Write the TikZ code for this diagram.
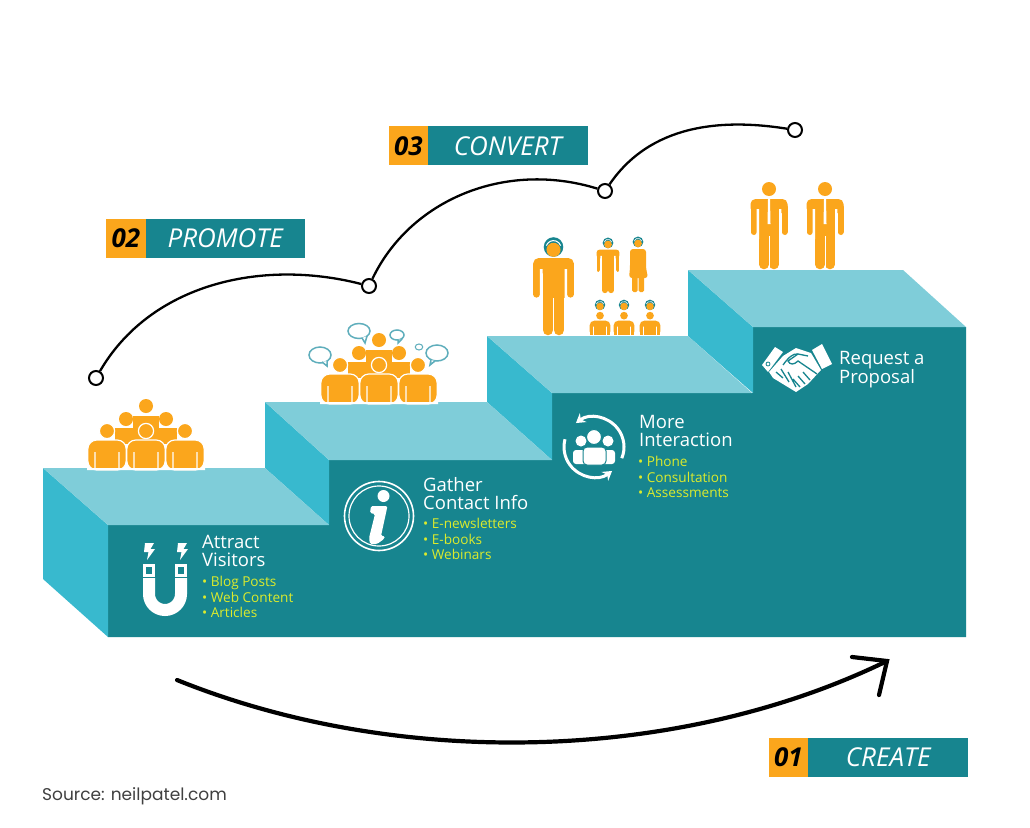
\documentclass[tikz,border=0pt]{standalone}
\usepackage{fontspec}
\setmainfont{Open Sans}
\newfontfamily\srcfont{Poppins}
\usetikzlibrary{arrows.meta}
\definecolor{stepfront}{HTML}{17858F}
\definecolor{stepside}{HTML}{38B9CE}
\definecolor{steptop}{HTML}{7FCDD9}
\definecolor{peopleor}{HTML}{FBA61C}
\definecolor{listyel}{HTML}{DCEB2C}
\definecolor{bubble}{HTML}{5FAEBC}
\tikzset{
  x=1pt,y=-1pt,
  frontface/.style={fill=stepfront},
  sideface/.style={fill=stepside},
  topface/.style={fill=steptop},
  headtext/.style={anchor=north west,inner sep=0pt,align=left,text=white,font=\fontsize{18.5}{18}\selectfont},
  listtext/.style={anchor=north west,inner sep=0pt,align=left,text=listyel,font=\fontsize{13.6}{15.6}\selectfont},
  numbox/.style={fill=peopleor,inner sep=0pt,minimum width=39.5pt,minimum height=39pt,anchor=north west,text=black,font=\fontsize{26}{26}\selectfont\bfseries\itshape},
  namebox/.style={fill=stepfront,inner sep=0pt,minimum height=39pt,anchor=north west,text=white,font=\fontsize{26}{26}\selectfont\itshape},
  waypoint/.style={circle,draw=black,fill=white,line width=2pt,minimum size=14pt,inner sep=0pt},
  pathline/.style={draw=black,line width=2.3pt},
  bigarrow/.style={draw=black,line width=4.2pt,line cap=round},
  speech/.style={draw=bubble,fill=white,line width=1.5pt},
  iconline/.style={draw=white,line width=3pt},
}
% bust: centre x, bottom y, scale
\newcommand{\bustfig}[3]{%
 \begin{scope}[shift={(#1,#2)},scale=#3]
  \fill[peopleor,rounded corners=#3*9pt] (-19,0) -- (-19,-28) -- (19,-28) -- (19,0) -- cycle;
  \fill[peopleor] (-19,-8) rectangle (19,0);
  \fill[white] (-12.4,-17) rectangle (-11.2,0) (11.2,-17) rectangle (12.4,0);
  \fill[peopleor] (0,-37) circle[radius=7];
 \end{scope}}
% crowd: centre x, bottom y
\newcommand{\crowdfig}[2]{%
 \begin{scope}[shift={(#1,#2)}]
  \fill[peopleor] (0,-62) circle[radius=7];
  \fill[peopleor] (-13,-52) rectangle (13,-38);
  \fill[peopleor] (-20,-49) circle[radius=7] (20,-49) circle[radius=7];
  \fill[peopleor] (-31,-40) rectangle (31,-24);
  \foreach \cx in {-39,39}{\draw[white,line width=1.2pt,fill=peopleor] (\cx,-37) circle[radius=7.6];}
  \foreach \cx in {-39,0,39}{
   \draw[white,line width=1.2pt,fill=peopleor,rounded corners=9pt] (\cx-19.2,2) -- (\cx-19.2,-28) -- (\cx+19.2,-28) -- (\cx+19.2,2) -- cycle;
   \fill[white] (\cx-12.6,-16) rectangle (\cx-11.4,0) (\cx+11.4,-16) rectangle (\cx+12.6,0);
  }
  \draw[white,line width=1.2pt,fill=peopleor] (0,-37) circle[radius=7.6];
  \fill[white] (-20,0) rectangle (-59,2) (-20,0) rectangle (59,2);
 \end{scope}}
% standing man: centre x, foot y, scale
\newcommand{\manfig}[3]{%
 \begin{scope}[shift={(#1,#2)},scale=#3]
  \fill[peopleor] (0,-80) circle[radius=7];
  \fill[peopleor,rounded corners=#3*5pt] (-18.5,-70) rectangle (18.5,-56);
  \fill[peopleor] (-10,-66) rectangle (10,-34);
  \draw[peopleor,line width=#3*6pt,line cap=round] (-15.5,-62) -- (-15.5,-37) (15.5,-62) -- (15.5,-37);
  \draw[peopleor,line width=#3*9.5pt,line cap=round] (-5,-36) -- (-5,-4.5) (5,-36) -- (5,-4.5);
  \fill[white] (-12.3,-60) rectangle (-10,-30) (10,-60) rectangle (12.3,-30);
 \end{scope}}
% headset on a head: x, y, head radius
\newcommand{\headsetfig}[3]{%
  \fill[stepfront] (#1,#2-#3*.25) circle[radius=#3*1.22];
  \fill[peopleor] (#1,#2+#3*.1) circle[radius=#3*.88];
  \draw[white,line width=#3*.13pt] ([shift={(-160:#3*.95)}]#1,#2-#3*.1) arc[start angle=-160,end angle=-20,radius=#3*.95];
}
\begin{document}
\begin{tikzpicture}
\useasboundingbox (0,0) rectangle (1030,827);
\fill[white] (0,0) rectangle (1030,827);
% --- stairs
\fill[frontface] (108,525) -- (329,525) -- (329,460) -- (552,460) -- (552,393) -- (753,393) -- (753,327) -- (966,327) -- (966,637) -- (108,637) -- cycle;
\fill[sideface] (43,468) -- (108,525) -- (108,637) -- (43,579) -- cycle;
\fill[sideface] (265,402) -- (329,460) -- (329,525) -- (265,468) -- cycle;
\fill[sideface] (487,336) -- (552,393) -- (552,460) -- (487,402) -- cycle;
\fill[sideface] (688,270) -- (753,327) -- (753,393) -- (688,336) -- cycle;
\fill[topface] (43,468) -- (265,468) -- (329,525) -- (108,525) -- cycle;
\fill[topface] (265,402) -- (487,402) -- (552,460) -- (329,460) -- cycle;
\fill[topface] (487,336) -- (688,336) -- (752,393) -- (552,393) -- cycle;
\fill[topface] (688,270) -- (903,270) -- (966,327) -- (753,327) -- cycle;
% --- crowds
\crowdfig{146}{468}
\crowdfig{379}{402}
% speech bubbles
\draw[speech] (359,331) ellipse[x radius=11,y radius=7.5];
\draw[speech] (362,338) -- (365,343) -- (367,336);
\draw[speech] (397,335) ellipse[x radius=7,y radius=5];
\draw[speech] (398,340) -- (398,343) -- (402,339);
\draw[speech] (320,355) ellipse[x radius=11,y radius=8];
\draw[speech] (322,362) -- (327,366) -- (327,361);
\draw[speech] (437,353) ellipse[x radius=11,y radius=8];
\draw[speech] (431,360) -- (430,365) -- (435,361);
\draw[speech,line width=1pt] (419,347) ellipse[x radius=3.8,y radius=3];
% --- agents
\manfig{553.5}{335}{1.1}
\headsetfig{553.5}{249}{8}
\manfig{608}{293}{.62}
\headsetfig{608}{244}{4.4}
\fill[peopleor,rounded corners=3pt] (630,249) -- (646,249) -- (646,268) -- (648,278) -- (629,278) -- (630,268) -- cycle;
\fill[peopleor,rounded corners=1.5pt] (632,276) rectangle (637.6,292) (638.6,276) rectangle (644,292);
\headsetfig{638}{243}{4.4}
\bustfig{600}{336}{.55}
\headsetfig{600}{306}{4.3}
\bustfig{624}{336}{.55}
\headsetfig{624}{306}{4.3}
\bustfig{650}{336}{.55}
\headsetfig{650}{306}{4.3}
\fill[white] (585,335) rectangle (665,336.5);
\fill[topface] (585,336) rectangle (665,337);
% --- suited men
\manfig{769}{269}{1}
\fill[white] (768,199) -- (770,199) -- (770.5,224) -- (767.5,224) -- cycle;
\fill[white] (768.5,236) rectangle (769.5,269);
\manfig{825}{269}{1}
\fill[white] (824,199) -- (826,199) -- (826.5,224) -- (823.5,224) -- cycle;
\fill[white] (824.5,236) rectangle (825.5,269);
% --- magnet icon
\draw[white,line width=12pt] (149,578) -- (149,594) arc[start angle=180,end angle=0,radius=16] -- (181,578);
\draw[white,line width=2.6pt] (144.3,565.3) rectangle (153.7,575.3) (176.3,565.3) rectangle (185.7,575.3);
\fill[white] (145,543) -- (154,543) -- (150.5,549) -- (155,549) -- (147,560) -- (148.5,552) -- (144,552) -- cycle;
\fill[white] (178,543) -- (187,543) -- (183.5,549) -- (188,549) -- (180,560) -- (181.5,552) -- (177,552) -- cycle;
% --- info icon
\draw[white,line width=1.6pt] (379,516) circle[radius=34.5];
\draw[white,line width=1.2pt] (379,516) circle[radius=30];
\fill[white] (383.5,496) circle[radius=6];
\fill[white,rounded corners=1.5pt] (371,506) -- (387.5,506) -- (381,536) -- (385,536) -- (384,539) -- (377,544) -- (370,544) -- (369,538) -- (375,514) -- (370,513) -- cycle;
% --- interaction icon
\draw[iconline,{Stealth[length=9pt,width=11pt]}-] ([shift={(-127:30)}]594,447) arc[start angle=-127,end angle=22,radius=30];
\draw[iconline,{Stealth[length=9pt,width=11pt]}-] ([shift={(53:30)}]594,447) arc[start angle=53,end angle=195,radius=30];
\fill[white] (581,441) circle[radius=5.5] (608,441) circle[radius=5.5];
\fill[white,rounded corners=3pt] (573,464) -- (573,450) -- (615,450) -- (615,464) -- cycle;
\draw[stepfront,line width=1pt,fill=white] (594,437) circle[radius=7.5];
\draw[stepfront,line width=1pt,fill=white,rounded corners=4pt] (583,465) -- (583,447) -- (606,447) -- (606,465) -- cycle;
% --- handshake icon
\fill[white] (762,365) -- (775,347) -- (783,352) -- (768,372) -- cycle;
\fill[white] (812,350) -- (822,344) -- (832,364) -- (822,369) -- cycle;
\fill[white] (783,356) -- (796,348) -- (811,353) -- (821,370) -- (808,384) -- (796,392) -- (773,378) -- (769,372) -- cycle;
\draw[stepfront,line width=1.3pt] (783,365) .. controls (788,358) and (793,353) .. (798,354) -- (808,356);
\draw[stepfront,line width=1.3pt] (798,354) -- (788,361) .. controls (790,365) and (794,365) .. (798,361) -- (817,374);
\draw[stepfront,line width=1.3pt] (776,372) -- (783,378) (781,369) -- (789,382) (788,372) -- (796,387) (803,372) -- (810,380) (798,376) -- (805,384) (793,379) -- (800,387);
\draw[stepfront,line width=.8pt] (768,364) circle[radius=2];
% --- step texts
\node[headtext] (t1) at (202,535) {Attract\\Visitors};
\node[listtext] (l1) at (202,576) {\textbullet\ Blog Posts\\\textbullet\ Web Content\\\textbullet\ Articles};
\node[headtext] (t2) at (423,477) {Gather\\Contact Info};
\node[listtext] (l2) at (423,518) {\textbullet\ E-newsletters\\\textbullet\ E-books\\\textbullet\ Webinars};
\node[headtext] (t3) at (639,415) {More\\Interaction};
\node[listtext] (l3) at (638,456) {\textbullet\ Phone\\\textbullet\ Consultation\\\textbullet\ Assessments};
\node[headtext] (t4) at (839,351) {Request a\\Proposal};
% --- tags
\node[namebox,minimum width=160pt] (n3) at (427.5,126) {CONVERT};
\node[numbox] (b3) at (388.5,126) {03};
\node[namebox,minimum width=160pt] (n2) at (145,218.5) {PROMOTE};
\node[numbox] (b2) at (106,218.5) {02};
\node[namebox,minimum width=160pt] (n1) at (808,737.5) {CREATE};
\node[numbox] (b1) at (768.5,737.5) {01};
% --- curved path
\node[waypoint] (c1) at (96,378) {};
\node[waypoint] (c2) at (369,286) {};
\node[waypoint] (c3) at (605,191) {};
\node[waypoint] (c4) at (795,130) {};
\draw[pathline] (c1) .. controls (150,285) and (260,258) .. (c2);
\draw[pathline] (c2) .. controls (410,200) and (505,160) .. (c3);
\draw[pathline] (c3) .. controls (650,125) and (720,118) .. (c4);
% --- big arrow
\coordinate (as) at (177,680);
\coordinate (ae) at (887,661);
\coordinate (ah1) at (852,657);
\coordinate (ah2) at (879,695);
\draw[bigarrow] (as) .. controls (400,770) and (680,762) .. (ae);
\draw[bigarrow,line join=miter] (ah1) -- (ae) -- (ah2);
% --- source
\node[anchor=base west,inner sep=0pt,text=black!75,font=\srcfont\fontsize{17}{17}\selectfont] (src) at (42,800) {Source: neilpatel.com};
\end{tikzpicture}
\end{document}
